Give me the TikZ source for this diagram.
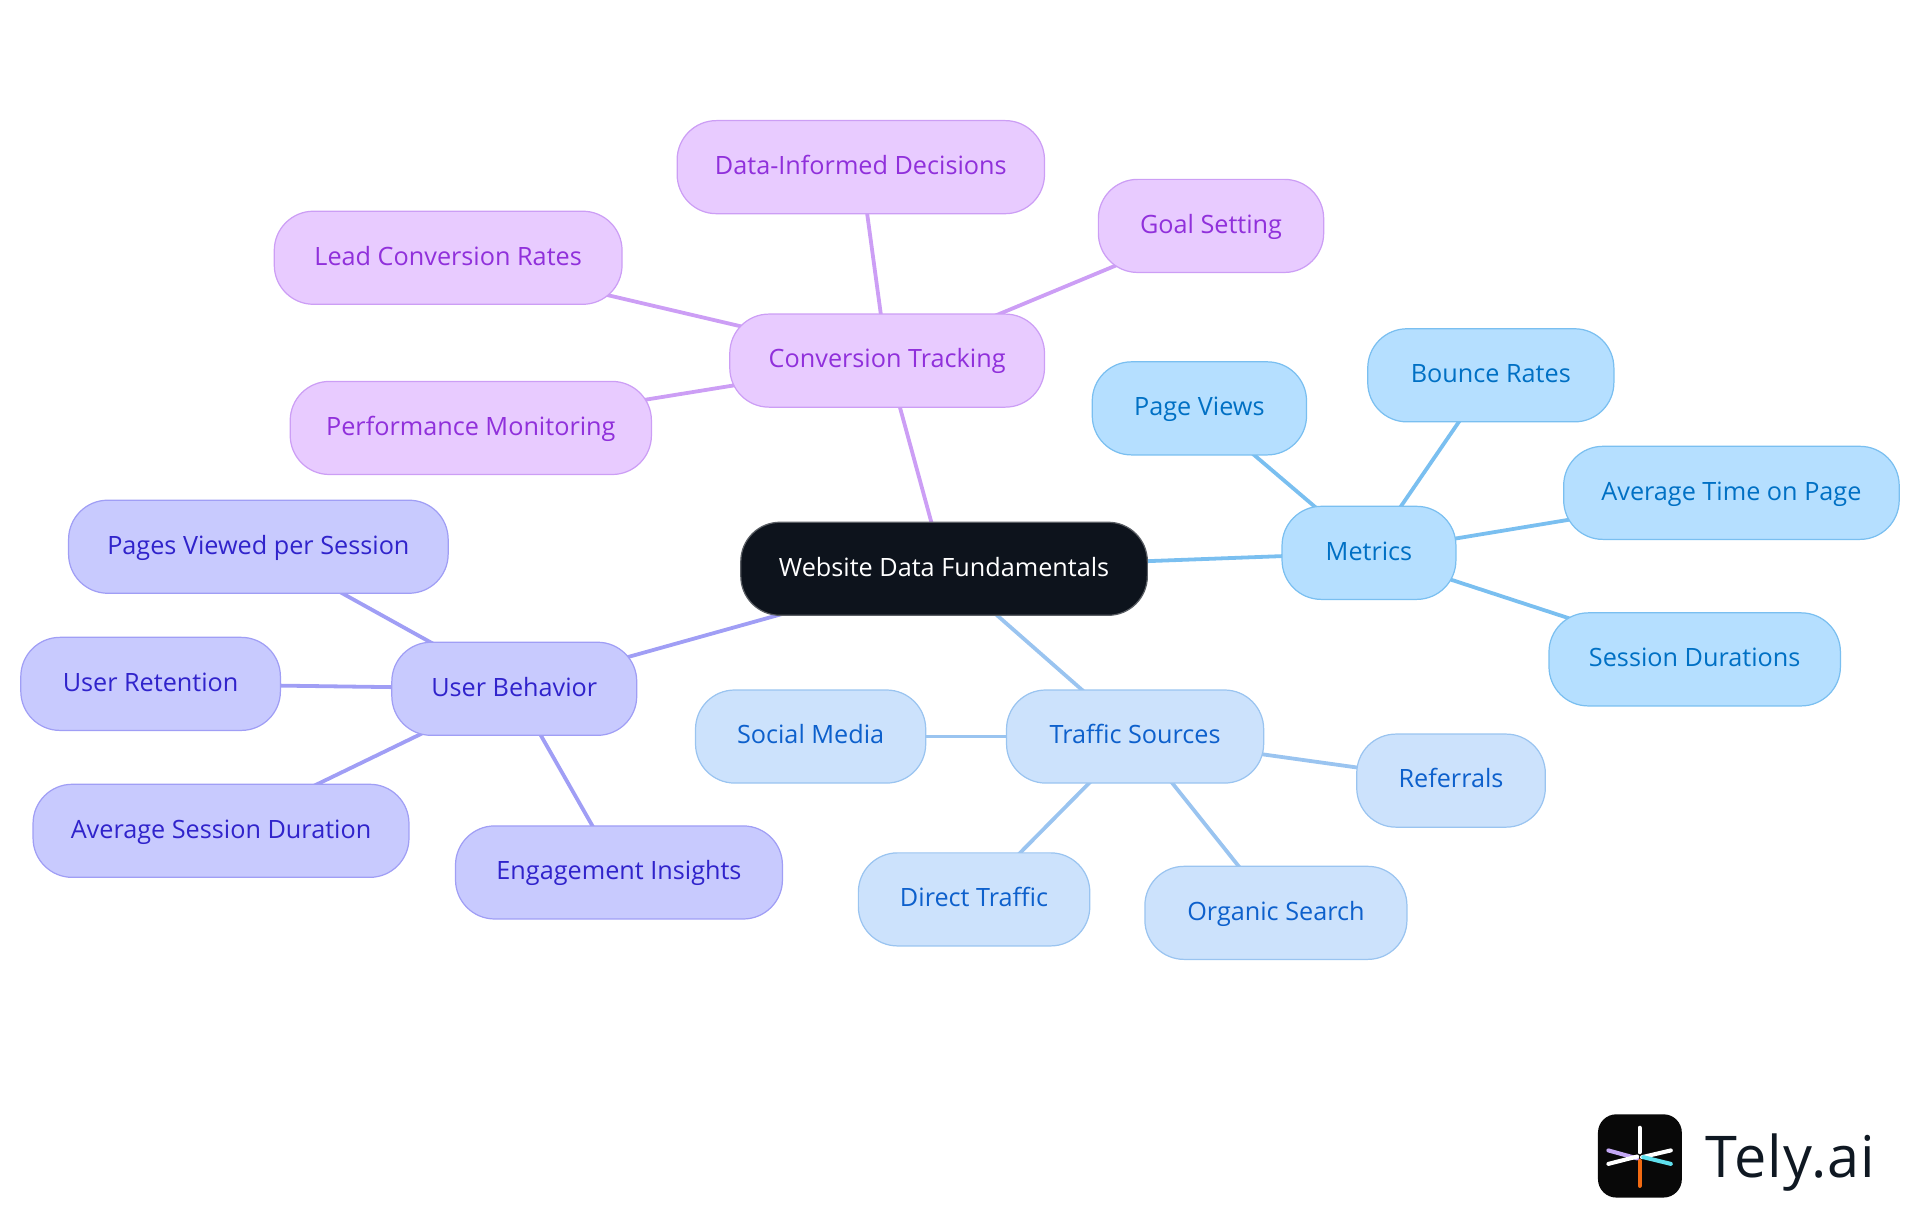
\documentclass[tikz,border=0pt]{standalone}
\usepackage{fontspec}
\setmainfont{Open Sans}
\newfontfamily\logofont[LetterSpace=1.6]{Open Sans}
\usetikzlibrary{backgrounds}
\definecolor{rootfill}{HTML}{0D131C}
\definecolor{rootline}{HTML}{5A5E64}
\definecolor{mfill}{HTML}{B5DFFF}
\definecolor{mline}{HTML}{7ABFF0}
\definecolor{mtext}{HTML}{0070C4}
\definecolor{tfill}{HTML}{CCE2FC}
\definecolor{tline}{HTML}{9AC4F0}
\definecolor{ttext}{HTML}{0D60CC}
\definecolor{ufill}{HTML}{C8CAFE}
\definecolor{uline}{HTML}{A09EF5}
\definecolor{utext}{HTML}{3023CB}
\definecolor{cfill}{HTML}{E8CBFF}
\definecolor{cline}{HTML}{CC9EF5}
\definecolor{ctext}{HTML}{9030DB}
\definecolor{logotext}{HTML}{0F1822}
\definecolor{logopurple}{HTML}{C4A8F5}
\definecolor{logocyan}{HTML}{5FE0EE}
\definecolor{logoorange}{HTML}{F26A12}
\tikzset{
  box/.style={rounded corners=32pt,line width=1pt,inner sep=0pt,align=center,yshift=-0.5pt,
    font=\fontsize{20.6}{25}\selectfont,text height=16pt,text depth=4pt},
  rootbox/.style={box,fill=rootfill,draw=rootline,text=white},
  mbox/.style={box,fill=mfill,draw=mline,text=mtext},
  tbox/.style={box,fill=tfill,draw=tline,text=ttext},
  ubox/.style={box,fill=ufill,draw=uline,text=utext},
  cbox/.style={box,fill=cfill,draw=cline,text=ctext},
  medge/.style={line width=3.1pt,draw=mline},
  tedge/.style={line width=3.1pt,draw=tline},
  uedge/.style={line width=3.1pt,draw=uline},
  cedge/.style={line width=3.1pt,draw=cline},
  spoke/.style={line width=3.3pt,line cap=round},
}
\begin{document}
\begin{tikzpicture}[x=1pt,y=-1pt]
\useasboundingbox (0,0) rectangle (1568,992.25);
\node[rootbox,minimum width=332pt,minimum height=76pt] (root) at (771,464) {Website Data Fundamentals};
\node[mbox,minimum width=142pt,minimum height=76pt] (metrics) at (1118,451) {Metrics};
\node[mbox,minimum width=201pt,minimum height=76pt] (bounce) at (1217.5,306) {Bounce Rates};
\node[mbox,minimum width=175pt,minimum height=76pt] (views) at (979.5,333) {Page Views};
\node[mbox,minimum width=274pt,minimum height=76pt] (avgtime) at (1414,402) {Average Time on Page};
\node[mbox,minimum width=238pt,minimum height=76pt] (session) at (1384,538) {Session Durations};
\node[tbox,minimum width=210pt,minimum height=76pt] (traffic) at (927,601) {Traffic Sources};
\node[tbox,minimum width=188pt,minimum height=76pt] (social) at (662,601) {Social Media};
\node[tbox,minimum width=154pt,minimum height=76pt] (referrals) at (1185,637) {Referrals};
\node[tbox,minimum width=189pt,minimum height=76pt] (direct) at (795.5,734) {Direct Traffic};
\node[tbox,minimum width=214pt,minimum height=76pt] (organic) at (1042,745) {Organic Search};
\node[ubox,minimum width=200pt,minimum height=76pt] (behavior) at (420,562) {User Behavior};
\node[ubox,minimum width=310pt,minimum height=76pt] (pages) at (211,446) {Pages Viewed per Session};
\node[ubox,minimum width=212pt,minimum height=76pt] (retention) at (123,558) {User Retention};
\node[ubox,minimum width=307pt,minimum height=76pt] (avgsession) at (180.5,678) {Average Session Duration};
\node[ubox,minimum width=267pt,minimum height=76pt] (engagement) at (505.5,712) {Engagement Insights};
\node[cbox,minimum width=257pt,minimum height=76pt] (conversion) at (724.5,294) {Conversion Tracking};
\node[cbox,minimum width=300pt,minimum height=76pt] (decisions) at (703,136) {Data-Informed Decisions};
\node[cbox,minimum width=184pt,minimum height=76pt] (goal) at (989,184) {Goal Setting};
\node[cbox,minimum width=284pt,minimum height=76pt] (lead) at (366,210) {Lead Conversion Rates};
\node[cbox,minimum width=295pt,minimum height=76pt] (performance) at (384.5,349) {Performance Monitoring};
\begin{pgfonlayer}{background}
\draw[medge] (root.center) -- (metrics.center);
\draw[medge] (metrics.center) -- (bounce.center);
\draw[medge] (metrics.center) -- (views.center);
\draw[medge] (metrics.center) -- (avgtime.center);
\draw[medge] (metrics.center) -- (session.center);
\draw[tedge] (root.center) -- (traffic.center);
\draw[tedge] (traffic.center) -- (social.center);
\draw[tedge] (traffic.center) -- (referrals.center);
\draw[tedge] (traffic.center) -- (direct.center);
\draw[tedge] (traffic.center) -- (organic.center);
\draw[uedge] (root.center) -- (behavior.center);
\draw[uedge] (behavior.center) -- (pages.center);
\draw[uedge] (behavior.center) -- (retention.center);
\draw[uedge] (behavior.center) -- (avgsession.center);
\draw[uedge] (behavior.center) -- (engagement.center);
\draw[cedge] (root.center) -- (conversion.center);
\draw[cedge] (conversion.center) -- (decisions.center);
\draw[cedge] (conversion.center) -- (goal.center);
\draw[cedge] (conversion.center) -- (lead.center);
\draw[cedge] (conversion.center) -- (performance.center);
\end{pgfonlayer}
% logo
\fill[black!97] (1305,910) [rounded corners=15pt] rectangle (1373.5,978);
\draw[spoke,white] (1339,921) -- (1339,941);
\draw[spoke,logoorange] (1339,948) -- (1339,968.5);
\draw[spoke,logopurple] (1313.5,939.5) -- (1337,946);
\draw[spoke,white] (1313.5,950.5) -- (1337,944.5);
\draw[spoke,white] (1364.5,939.5) -- (1341,945);
\draw[spoke,logocyan] (1342,945) -- (1364.5,950.5);
\node[inner sep=0pt,anchor=base west,text=logotext,font=\logofont\fontsize{47}{50}\selectfont] (logotype) at (1393,962) {Tely.ai};
\end{tikzpicture}
\end{document}
